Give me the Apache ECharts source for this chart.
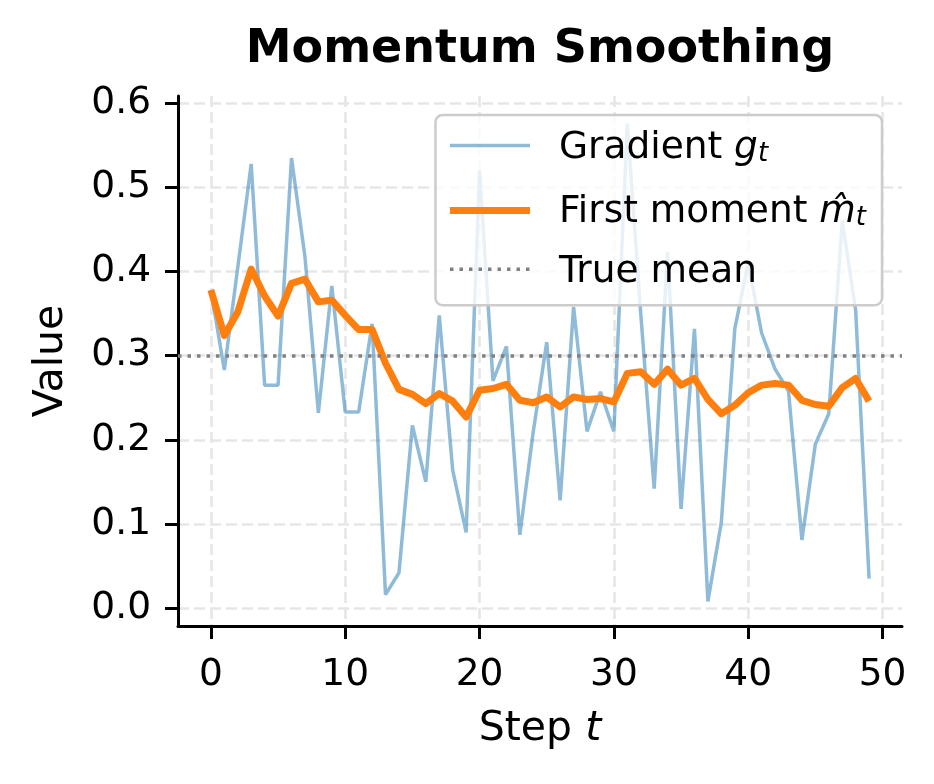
<!DOCTYPE html>
<html>
<head>
<meta charset="utf-8">
<script src="https://cdn.jsdelivr.net/npm/echarts@6/dist/echarts.min.js"></script>
<style>
html,body{margin:0;padding:0;background:#fff;}
#chart{width:934px;height:784px;}
</style>
</head>
<body>
<div id="chart"></div>
<script>
// ---- data ----
var steps = [0,1,2,3,4,5,6,7,8,9,10,11,12,13,14,15,16,17,18,19,20,21,22,23,24,25,26,27,28,29,30,31,32,33,34,35,36,37,38,39,40,41,42,43,44,45,46,47,48,49];
var gradient = [0.378,0.283,0.405,0.528,0.265,0.265,0.535,0.418,0.232,0.383,
                0.233,0.233,0.338,0.016,0.042,0.217,0.150,0.348,0.164,0.090,
                0.520,0.270,0.311,0.087,0.210,0.316,0.128,0.358,0.210,0.257,
                0.210,0.576,0.350,0.142,0.423,0.118,0.332,0.008,0.102,0.332,
                0.410,0.327,0.284,0.258,0.081,0.195,0.231,0.461,0.354,0.035];
var firstMoment = [0.378,0.324,0.352,0.403,0.371,0.347,0.386,0.391,0.364,0.366,
                   0.348,0.331,0.331,0.291,0.260,0.254,0.243,0.255,0.246,0.227,
                   0.259,0.261,0.266,0.247,0.244,0.251,0.239,0.251,0.248,0.249,
                   0.245,0.279,0.281,0.266,0.284,0.265,0.273,0.248,0.231,0.241,
                   0.256,0.265,0.267,0.265,0.247,0.242,0.240,0.262,0.273,0.246];
var trueMean = 0.3;
var xTicks = [0,10,20,30,40,50];
var yTicks = [0.0,0.1,0.2,0.3,0.4,0.5,0.6];
var seriesNames = ['Gradient', 'First moment', 'True mean'];

function pairs(xs, ys){ return xs.map(function(x,i){ return [x, ys[i]]; }); }

var FONT = 'DejaVu Sans';
var chart = echarts.init(document.getElementById('chart'), null, {renderer:'canvas'});

var gridLine = {show:true, lineStyle:{color:'#e6e6e6', width:2.6, type:[11,5]}};
var LF = 37.5;
var P2 = [7,0,1,0];
var legendRich = {
  n:{fontFamily:FONT, fontSize:LF, lineHeight:44, verticalAlign:'bottom', color:'#000'},
  i:{fontFamily:FONT, fontSize:LF, fontStyle:'italic', lineHeight:44, verticalAlign:'bottom', color:'#000'},
  s:{fontFamily:FONT, fontSize:26, fontStyle:'italic', lineHeight:26, verticalAlign:'bottom', color:'#000'},
  n2:{fontFamily:FONT, fontSize:LF, lineHeight:44, verticalAlign:'bottom', color:'#000', padding:P2},
  i2:{fontFamily:FONT, fontSize:LF, fontStyle:'italic', lineHeight:44, verticalAlign:'bottom', color:'#000', padding:P2},
  s2:{fontFamily:FONT, fontSize:26, fontStyle:'italic', lineHeight:26, verticalAlign:'bottom', color:'#000', padding:P2}
};

var option = {
  backgroundColor:'#ffffff',
  animation:false,
  title:{
    text:'Momentum Smoothing',
    left:535, top:22, textAlign:'center',
    textStyle:{fontFamily:FONT, fontWeight:'bold', fontSize:46, color:'#000'}
  },
  grid:{left:178, right:32, top:96, bottom:158, containLabel:false},
  legend:{
    orient:'vertical',
    right:52, top:115,
    padding:[13,16,14,11],
    itemGap:19,
    itemWidth:80, itemHeight:44,
    backgroundColor:'rgba(255,255,255,0.8)',
    borderColor:'#cccccc', borderWidth:2.5, borderRadius:7,
    lineStyle:{width:'inherit', type:'inherit'},
    itemStyle:{color:'rgba(0,0,0,0)', borderWidth:0, opacity:0},
    data: seriesNames,
    formatter:function(name){
      if(name === seriesNames[0]) return '{n|Gradient }{i|g}{s|t}';
      if(name === seriesNames[1]) return '{n2|First moment }{i2|m\u0302}{s2|t}';
      return '{n|True mean}';
    },
    textStyle:{
      fontFamily:FONT, fontSize:LF, color:'#000', padding:[0,0,0,24],
      rich:legendRich
    }
  },
  xAxis:{
    type:'value', min:-2.45, max:51.45,
    name:'Step {i|t}', nameLocation:'middle', nameGap:83,
    nameTextStyle:{fontFamily:FONT, fontSize:41, color:'#000',
      rich:{i:{fontFamily:FONT, fontSize:41, fontStyle:'italic', color:'#000'}}},
    axisLine:{show:true, onZero:false, lineStyle:{color:'#000', width:3}},
    axisTick:{show:true, inside:false, length:13, lineStyle:{color:'#000', width:3}, customValues:xTicks},
    axisLabel:{fontFamily:FONT, fontSize:37.5, color:'#000', margin:30, customValues:xTicks,
      formatter:function(v){ return String(Math.round(v)); }},
    splitLine:gridLine
  },
  yAxis:{
    type:'value', min:-0.0213, max:0.6087,
    name:'Value', nameLocation:'middle', nameGap:106, nameRotate:90,
    nameTextStyle:{fontFamily:FONT, fontSize:41, color:'#000'},
    axisLine:{show:true, onZero:false, lineStyle:{color:'#000', width:3}},
    axisTick:{show:true, inside:false, length:13, lineStyle:{color:'#000', width:3}, customValues:yTicks},
    axisLabel:{fontFamily:FONT, fontSize:37.5, color:'#000', margin:27, customValues:yTicks,
      formatter:function(v){ return (Math.round(v*10)/10).toFixed(1); }},
    splitLine:gridLine
  },
  series:[
    {
      name:seriesNames[0], type:'line', data:pairs(steps, gradient),
      symbol:'none', showSymbol:false, z:2,
      lineStyle:{color:'rgba(31,119,180,0.5)', width:3.5},
      itemStyle:{color:'rgba(31,119,180,0.5)'}
    },
    {
      name:seriesNames[1], type:'line', data:pairs(steps, firstMoment),
      symbol:'none', showSymbol:false, z:4,
      lineStyle:{color:'#ff7f0e', width:7, join:'round', cap:'butt'},
      itemStyle:{color:'#ff7f0e'}
    },
    {
      name:seriesNames[2], type:'line', data:[],
      symbol:'none', showSymbol:false, z:3,
      lineStyle:{color:'#808080', width:3.5, type:[3.5,6]},
      itemStyle:{color:'#808080'},
      markLine:{
        silent:true, symbol:['none','none'], label:{show:false},
        lineStyle:{color:'#808080', width:3.5, type:[3.5,6]},
        emphasis:{disabled:true},
        data:[{yAxis:trueMean}]
      }
    }
  ]
};
chart.setOption(option);
</script>
</body>
</html>
